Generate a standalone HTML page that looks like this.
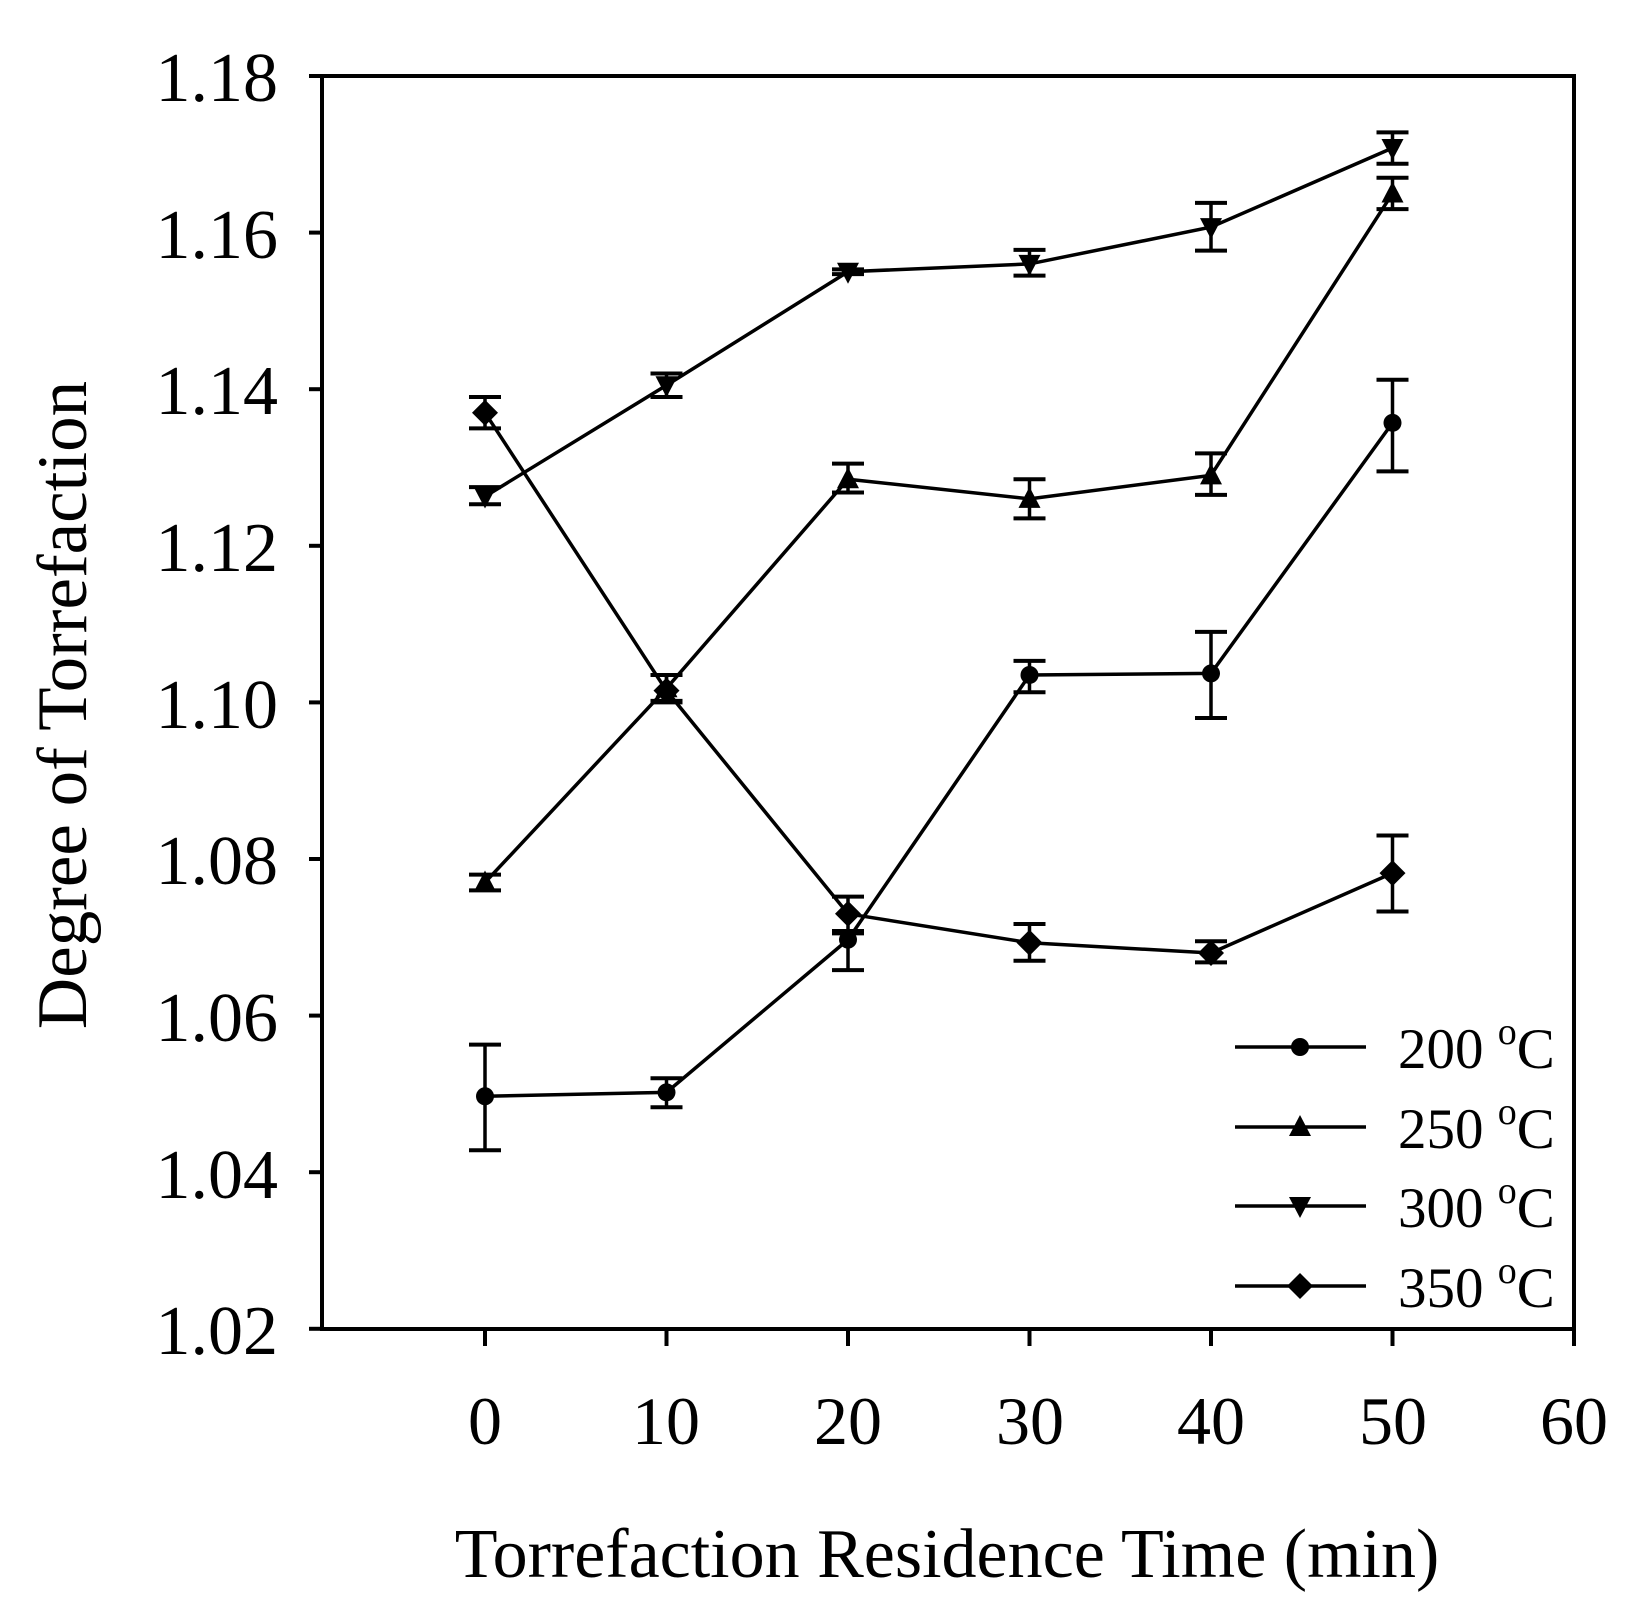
<!DOCTYPE html>
<html><head><meta charset="utf-8"><style>
html,body{margin:0;padding:0;background:#fff;}
svg{display:block;}
text{font-family:"Liberation Serif",serif;fill:#000;}
</style></head><body>
<svg id="s" width="1626" height="1615" viewBox="0 0 1626 1615" xmlns="http://www.w3.org/2000/svg">
<rect width="1626" height="1615" fill="#fff"/>
<g id="axes" stroke="#000" stroke-width="4" fill="none">
<rect x="322" y="76" width="1252" height="1253"/>
</g>
<g font-size="70" text-anchor="end">
<text x="278" y="101">1.18</text>
<text x="278" y="258">1.16</text>
<text x="278" y="414">1.14</text>
<text x="278" y="571">1.12</text>
<text x="278" y="728">1.10</text>
<text x="278" y="884">1.08</text>
<text x="278" y="1041">1.06</text>
<text x="278" y="1198">1.04</text>
<text x="278" y="1354">1.02</text>
</g>
<g font-size="68" text-anchor="middle">
<text x="485" y="1444">0</text>
<text x="666" y="1444">10</text>
<text x="848" y="1444">20</text>
<text x="1030" y="1444">30</text>
<text x="1211" y="1444">40</text>
<text x="1393" y="1444">50</text>
<text x="1574" y="1444">60</text>
</g>
<text x="947" y="1577" font-size="70" text-anchor="middle">Torrefaction Residence Time (min)</text>
<text transform="translate(86,705) rotate(-90)" font-size="71" text-anchor="middle">Degree of Torrefaction</text>
<g font-size="57">
<text x="1398" y="1068">200 <tspan font-size="38" dy="-24">o</tspan><tspan dy="24">C</tspan></text>
<text x="1398" y="1148">250 <tspan font-size="38" dy="-24">o</tspan><tspan dy="24">C</tspan></text>
<text x="1398" y="1227">300 <tspan font-size="38" dy="-24">o</tspan><tspan dy="24">C</tspan></text>
<text x="1398" y="1307">350 <tspan font-size="38" dy="-24">o</tspan><tspan dy="24">C</tspan></text>
</g>
<g id="g"></g>
</svg>
<script>
var NS="http://www.w3.org/2000/svg",g=document.getElementById('g');
function el(t,a){var e=document.createElementNS(NS,t);for(var k in a)e.setAttribute(k,a[k]);g.appendChild(e);return e;}
function X(t){return 485+t*18.15;}
function Y(v){return 76+(1.18-v)/0.02*156.6;}
for(var i=0;i<9;i++){var y=76+i*156.6;el('line',{x1:309,x2:322,y1:y,y2:y,stroke:'#000','stroke-width':4});}
for(var i=0;i<=6;i++){var x=485+i*181.5;el('line',{x1:x,x2:x,y1:1329,y2:1346,stroke:'#000','stroke-width':4});}
var S=[
 {m:'c',d:[[1.0497,1.0428,1.0563],[1.0502,1.0483,1.052],[1.0697,1.0658,1.0708],[1.1035,1.1013,1.1053],[1.1037,1.098,1.109],[1.1357,1.1295,1.1412]]},
 {m:'u',d:[[1.077,1.076,1.078],[1.1018,1.1,1.1035],[1.1285,1.1268,1.1305],[1.126,1.1235,1.1285],[1.129,1.1265,1.1318],[1.165,1.163,1.167]]},
 {m:'d',d:[[1.1263,1.1253,1.1275],[1.1405,1.139,1.142],[1.155,1.1547,1.1553],[1.156,1.1545,1.1578],[1.1607,1.1577,1.1638],[1.1708,1.1688,1.1728]]},
 {m:'r',d:[[1.137,1.135,1.139],[1.1015,1.1002,1.1035],[1.073,1.0705,1.0752],[1.0693,1.067,1.0717],[1.068,1.0668,1.0695],[1.0782,1.0733,1.083]]}
];
function mk(m,x,y){
 if(m=='c')el('circle',{cx:x,cy:y,r:9,fill:'#000'});
 if(m=='u')el('polygon',{points:(x-11)+','+(y+9)+' '+(x+11)+','+(y+9)+' '+x+','+(y-12),fill:'#000'});
 if(m=='d')el('polygon',{points:(x-11)+','+(y-9)+' '+(x+11)+','+(y-9)+' '+x+','+(y+12),fill:'#000'});
 if(m=='r')el('polygon',{points:(x-13)+','+y+' '+x+','+(y-13)+' '+(x+13)+','+y+' '+x+','+(y+13),fill:'#000'});
}
S.forEach(function(s){
 var p=s.d.map(function(d,i){return X(i*10)+','+Y(d[0]);}).join(' ');
 el('polyline',{points:p,fill:'none',stroke:'#000','stroke-width':3.5});
 s.d.forEach(function(d,i){var x=X(i*10);
  el('line',{x1:x,x2:x,y1:Y(d[1]),y2:Y(d[2]),stroke:'#000','stroke-width':3.5});
  el('line',{x1:x-16,x2:x+16,y1:Y(d[1]),y2:Y(d[1]),stroke:'#000','stroke-width':4});
  el('line',{x1:x-16,x2:x+16,y1:Y(d[2]),y2:Y(d[2]),stroke:'#000','stroke-width':4});
  mk(s.m,x,Y(d[0]));});
});
var ly=[1047,1127,1206,1286],lm=['c','u','d','r'];
for(var i=0;i<4;i++){el('line',{x1:1235,x2:1366,y1:ly[i],y2:ly[i],stroke:'#000','stroke-width':3.5});mk(lm[i],1300,ly[i]);}
</script>
</body></html>
